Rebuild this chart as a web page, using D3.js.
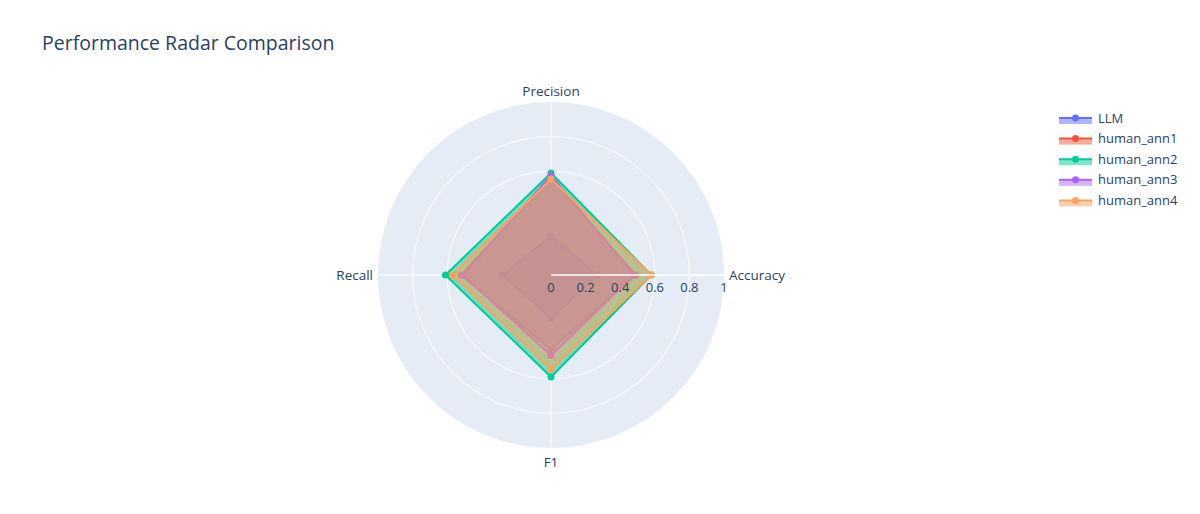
<!DOCTYPE html>
<html>
<head>
<meta charset="utf-8">
<script src="https://cdn.jsdelivr.net/npm/d3@7"></script>
<style>
  body { margin: 0; background: #fff; }
  svg { display: block; font-family: "Open Sans", verdana, arial, sans-serif; }
</style>
</head>
<body>
<div id="chart"></div>
<script>
// metrics, counter-clockwise from the right
const categories = ['Accuracy', 'Precision', 'Recall', 'F1'];
const seriesNames = ['LLM', 'human_ann1', 'human_ann2', 'human_ann3', 'human_ann4'];
const llm = [0.27, 0.225, 0.28, 0.25];
const humanAnn1 = [0.49, 0.56, 0.52, 0.43];
const humanAnn2 = [0.58, 0.59, 0.61, 0.59];
const humanAnn3 = [0.48, 0.575, 0.51, 0.465];
const humanAnn4 = [0.58, 0.555, 0.57, 0.545];
const radialTicks = [0, 0.2, 0.4, 0.6, 0.8, 1];
const colors = ['#636efa', '#EF553B', '#00cc96', '#ab63fa', '#FFA15A'];

const series = [llm, humanAnn1, humanAnn2, humanAnn3, humanAnn4].map((values, i) => ({
    name: seriesNames[i],
    color: colors[i],
    points: categories.map((c, j) => ({ cat: c, value: values[j] }))
}));

const width = 1200, height = 514;
const cx = 551, cy = 275, outer = 173;

const r = d3.scaleLinear().domain([0, 1]).range([0, outer]);
// d3 radial angle: 0 = up, clockwise. Accuracy on the right, going counter-clockwise.
const angle = d3.scaleOrdinal()
    .domain(categories)
    .range(categories.map((c, i) => Math.PI / 2 - i * Math.PI / 2));

const svg = d3.select('#chart').append('svg')
    .attr('width', width)
    .attr('height', height);

svg.append('text')
    .attr('x', 42).attr('y', 50)
    .attr('fill', '#2a3f5f')
    .style('font-size', '19.5px')
    .text('Performance Radar Comparison');

const g = svg.append('g').attr('transform', `translate(${cx},${cy})`);

// background disc
g.append('circle').attr('r', outer).attr('fill', '#E5ECF6');

// radial grid circles
g.selectAll('.grid-circle')
    .data(radialTicks.filter(t => t > 0 && t < 1))
    .enter().append('circle')
        .attr('r', d => r(d))
        .attr('fill', 'none')
        .attr('stroke', '#fff')
        .attr('stroke-width', 1);

// angular spokes
const px = (a, rad) => [rad * Math.sin(a), -rad * Math.cos(a)];
g.selectAll('.spoke')
    .data(categories)
    .enter().append('line')
        .attr('x1', 0).attr('y1', 0)
        .attr('x2', d => px(angle(d), outer)[0])
        .attr('y2', d => px(angle(d), outer)[1])
        .attr('stroke', '#fff')
        .attr('stroke-width', 1);

const radialLine = d3.lineRadial()
    .angle(d => angle(d.cat))
    .radius(d => r(d.value))
    .curve(d3.curveLinearClosed);

// traces: fill, line, markers in order
series.forEach(s => {
    const tg = g.append('g');
    tg.append('path')
        .attr('d', radialLine(s.points))
        .attr('fill', s.color)
        .attr('fill-opacity', 0.5)
        .attr('stroke', s.color)
        .attr('stroke-width', 2)
        .attr('stroke-linejoin', 'round');
    tg.selectAll('circle')
        .data(s.points)
        .enter().append('circle')
            .attr('cx', d => px(angle(d.cat), r(d.value))[0])
            .attr('cy', d => px(angle(d.cat), r(d.value))[1])
            .attr('r', 3.5)
            .attr('fill', s.color);
});

// radial axis line above traces
g.append('line')
    .attr('x1', 0).attr('y1', 0)
    .attr('x2', r(1)).attr('y2', 0)
    .attr('stroke', '#fff')
    .attr('stroke-width', 1.5);

g.selectAll('.rtick')
    .data(radialTicks)
    .enter().append('text')
        .attr('x', d => r(d))
        .attr('y', 17)
        .attr('text-anchor', 'middle')
        .attr('fill', '#2a3f5f')
        .style('font-size', '13px')
        .text(d => d);

// angular labels
const labelPos = {
    Accuracy: { x: outer + 5, y: 5, anchor: 'start' },
    Precision: { x: 0, y: -outer - 6, anchor: 'middle' },
    Recall: { x: -outer - 5, y: 5, anchor: 'end' },
    F1: { x: 0, y: outer + 19, anchor: 'middle' }
};
g.selectAll('.alabel')
    .data(categories)
    .enter().append('text')
        .attr('x', d => labelPos[d].x)
        .attr('y', d => labelPos[d].y)
        .attr('text-anchor', d => labelPos[d].anchor)
        .attr('fill', '#2a3f5f')
        .style('font-size', '13.5px')
        .text(d => d);

// legend
const legend = svg.append('g').attr('transform', 'translate(1059,118)');
const items = legend.selectAll('g')
    .data(series)
    .enter().append('g')
        .attr('transform', (d, i) => `translate(0,${i * 20.6})`);
items.append('rect')
    .attr('x', 0).attr('y', 0)
    .attr('width', 33).attr('height', 6)
    .attr('fill', d => d.color)
    .attr('fill-opacity', 0.5);
items.append('line')
    .attr('x1', 0).attr('x2', 33)
    .attr('y1', 0).attr('y2', 0)
    .attr('stroke', d => d.color)
    .attr('stroke-width', 2);
items.append('circle')
    .attr('cx', 16.5).attr('cy', 0)
    .attr('r', 3.5)
    .attr('fill', d => d.color);
items.append('text')
    .attr('x', 39).attr('y', 4.5)
    .attr('fill', '#2a3f5f')
    .style('font-size', '13px')
    .text(d => d.name);
</script>
</body>
</html>
